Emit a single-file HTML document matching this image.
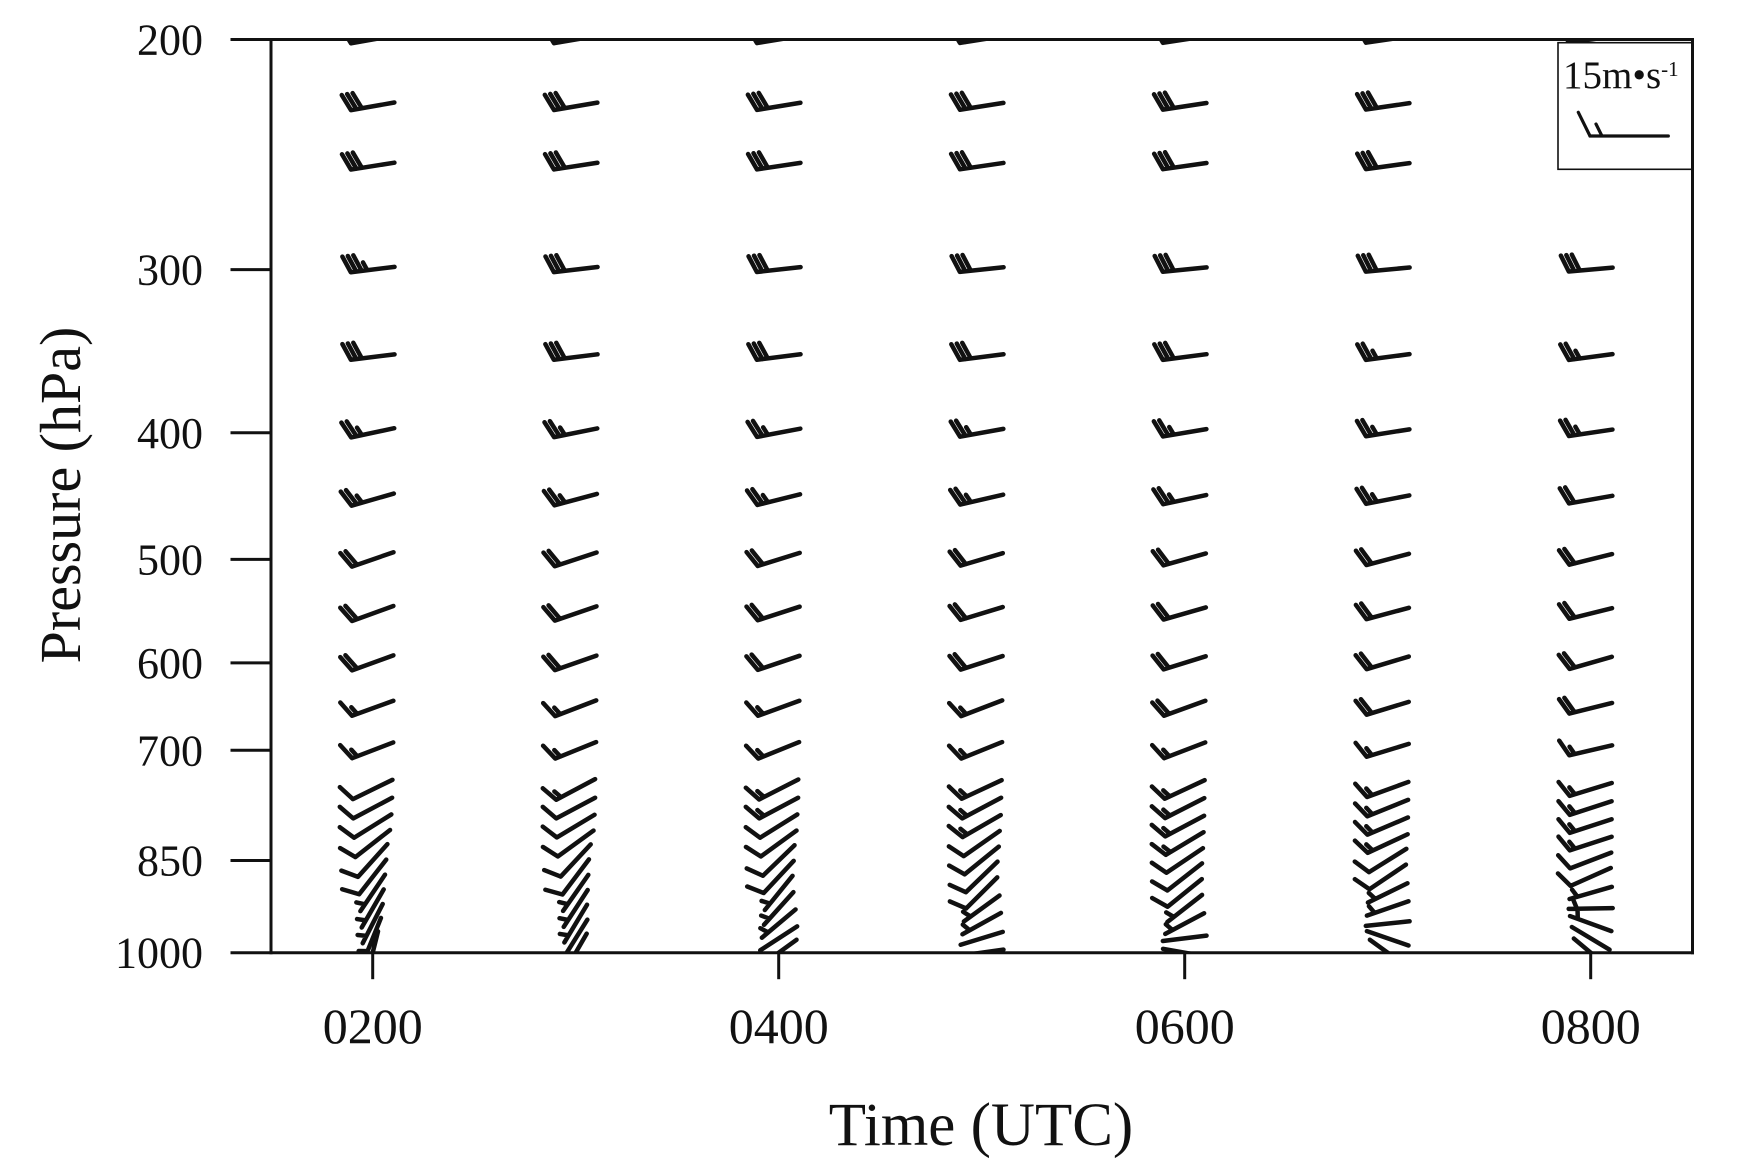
<!DOCTYPE html>
<html>
<head>
<meta charset="utf-8">
<style>
html,body{margin:0;padding:0;background:#fff;}
svg{display:block;}
text{font-family:"Liberation Serif","Times New Roman",serif;fill:#111;}
</style>
</head>
<body>
<svg id="s" width="1748" height="1165" viewBox="0 0 1748 1165" xmlns="http://www.w3.org/2000/svg">
<defs>
<clipPath id="cp"><rect x="271" y="39.5" width="1421.5" height="913.2"/></clipPath>
</defs>
<rect x="0" y="0" width="1748" height="1165" fill="#fff"/>
<g id="barbs" clip-path="url(#cp)" stroke="#111" stroke-width="4.5" stroke-linecap="round" stroke-linejoin="round" fill="none"></g>

<!-- axes frame and ticks -->
<g stroke="#111" stroke-width="3" fill="none" stroke-linecap="square">
<line x1="232" y1="39.5" x2="1692.5" y2="39.5"/>
<line x1="232" y1="952.7" x2="1692.5" y2="952.7"/>
<line x1="271" y1="39.5" x2="271" y2="952.7"/>
<line x1="1692.5" y1="39.5" x2="1692.5" y2="952.7"/>
<line x1="232" y1="269.6" x2="271" y2="269.6"/>
<line x1="232" y1="432.8" x2="271" y2="432.8"/>
<line x1="232" y1="559.4" x2="271" y2="559.4"/>
<line x1="232" y1="662.9" x2="271" y2="662.9"/>
<line x1="232" y1="750.3" x2="271" y2="750.3"/>
<line x1="232" y1="860.5" x2="271" y2="860.5"/>
<line x1="372.7" y1="952.7" x2="372.7" y2="977.7"/>
<line x1="778.7" y1="952.7" x2="778.7" y2="977.7"/>
<line x1="1184.7" y1="952.7" x2="1184.7" y2="977.7"/>
<line x1="1590.7" y1="952.7" x2="1590.7" y2="977.7"/>
</g>

<!-- y tick labels -->
<g font-size="44" text-anchor="end">
<text x="203" y="54.5">200</text>
<text x="203" y="284.6">300</text>
<text x="203" y="447.8">400</text>
<text x="203" y="574.4">500</text>
<text x="203" y="677.9">600</text>
<text x="203" y="765.3">700</text>
<text x="203" y="875.5">850</text>
<text x="203" y="967.7">1000</text>
</g>

<!-- x tick labels -->
<g font-size="50" text-anchor="middle">
<text x="372.7" y="1043">0200</text>
<text x="778.7" y="1043">0400</text>
<text x="1184.7" y="1043">0600</text>
<text x="1590.7" y="1043">0800</text>
</g>

<!-- axis titles -->
<text x="981" y="1145" font-size="61" text-anchor="middle">Time (UTC)</text>
<text transform="translate(80,495) rotate(-90)" font-size="58" text-anchor="middle">Pressure (hPa)</text>

<!-- legend -->
<rect x="1558" y="42.7" width="134.5" height="126.6" fill="#fff" stroke="#111" stroke-width="1.6"/>
<line x1="1692.5" y1="39.5" x2="1692.5" y2="170" stroke="#111" stroke-width="3"/>
<text x="1563" y="88" font-size="39">15m•s<tspan font-size="21" dy="-12">-1</tspan></text>
<g stroke="#111" stroke-width="3.2" stroke-linecap="round" fill="none">
<line x1="1590" y1="136" x2="1668.3" y2="136"/>
<line x1="1590" y1="136" x2="1578.3" y2="112.3"/>
<line x1="1601.7" y1="135.5" x2="1596" y2="124"/>
</g>
</svg>

<script>
(function(){
  function yP(p){return 39.5+567.4*Math.log(p/200);}
  var CX=[372.7,575.7,778.7,981.7,1184.7,1387.7,1590.7];
  var L=44, SP=5.5, HB=16.5, WB=6.5;
  function upper(c){
    var f=c/6, li=function(a,b){return a+(b-a)*f;};
    var r={};
    r[200]=[li(10,8),3,0];
    if(c<6){ r[225]=[li(10,8),3,0]; r[250]=[li(9,7.6),3,0]; }
    r[300]=[li(7,5),3,c==0?1:0];
    r[350]=[li(7,7.6),c<5?3:2,c<5?0:1];
    r[400]=[li(12,8.4),2,1];
    r[450]=[li(16,10),2,c<6?1:0];
    r[500]=[li(19,14),2,0];
    r[550]=[li(20,14),2,0];
    r[600]=[li(20,16),2,0];
    return r;
  }
  var LOW=[
   [[20,1,1],[21,1,1],[26,1,0],[28,1,0],[32,1,0],[38,1,0],[48,1,0],[52,1,0],[56,0,1],[60,0,1],[63,0,1],[68,0,1],[76,0,0]],
   [[21,1,1],[22,1,1],[28,1,1],[28,1,0],[31,1,0],[36,1,0],[47,1,0],[53,1,0],[55,0,1],[57,0,1],[59,0,1],[58,0,0],[60,0,0]],
   [[20,1,1],[22,1,1],[27,1,1],[28,1,1],[32,1,0],[36,1,0],[44,1,0],[47,1,0],[51,0,1],[48,0,1],[40,0,1],[33,0,0],[36,0,0]],
   [[21,1,1],[22,1,1],[25,1,1],[28,1,1],[30,1,1],[35,1,0],[39,1,0],[44,1,0],[45,1,0],[36,0,1],[29,0,1],[17,0,0],[8,0,0]],
   [[20,2,0],[21,1,1],[25,1,1],[27,1,1],[28,1,1],[31,1,1],[34,1,0],[38,1,0],[39,1,0],[38,0,1],[28,0,1],[7,0,0],[-10,0,0]],
   [[17,2,0],[17,1,1],[20,1,1],[22,1,1],[23,1,1],[25,1,1],[32,1,0],[34,1,0],[26,0,1],[19,0,1],[6,0,0],[-19,0,0],[-36,0,0]],
   [[14,2,0],[13,1,1],[17,1,1],[18,1,1],[18,1,1],[18,1,1],[21,1,0],[24,1,0],[16,0,1],[1,0,1],[-20,0,1],[-31,0,0],[-40,0,0]]
  ];
  var LOWLV=[650,700,750,775,800,825,850,875,900,925,950,975,1000];
  function r2(v){return Math.round(v*100)/100;}
  function barb(cx,cy,th,F,H){
    var t=th*Math.PI/180;
    var dx=Math.cos(t), dy=-Math.sin(t);
    var nx=dy, ny=-dx;
    var tx=cx-dx*L/2, ty=cy-dy*L/2;
    var px=cx+dx*L/2, py=cy+dy*L/2;
    var d='M'+r2(px)+','+r2(py)+'L'+r2(tx)+','+r2(ty);
    var off=0;
    for(var i=0;i<F;i++){
      var bx=tx+dx*off, by=ty+dy*off;
      var ex=bx-WB*dx+HB*nx, ey=by-WB*dy+HB*ny;
      d+='M'+r2(bx)+','+r2(by)+'L'+r2(ex)+','+r2(ey);
      off+=SP;
    }
    if(H){
      if(F==0) off=1.5*SP;
      var bx2=tx+dx*off, by2=ty+dy*off;
      var ex2=bx2-WB/2*dx+HB/2*nx, ey2=by2-WB/2*dy+HB/2*ny;
      d+='M'+r2(bx2)+','+r2(by2)+'L'+r2(ex2)+','+r2(ey2);
    }
    return d;
  }
  var all='';
  for(var c=0;c<7;c++){
    var u=upper(c);
    for(var k in u){
      var p=+k, v=u[k];
      all+=barb(CX[c],yP(p),v[0],v[1],v[2]);
    }
    for(var j=0;j<LOWLV.length;j++){
      var w=LOW[c][j];
      all+=barb(CX[c],yP(LOWLV[j]),w[0],w[1],w[2]);
    }
  }
  var g=document.getElementById('barbs');
  var path=document.createElementNS('http://www.w3.org/2000/svg','path');
  path.setAttribute('d',all);
  g.appendChild(path);
})();
</script>
</body>
</html>
